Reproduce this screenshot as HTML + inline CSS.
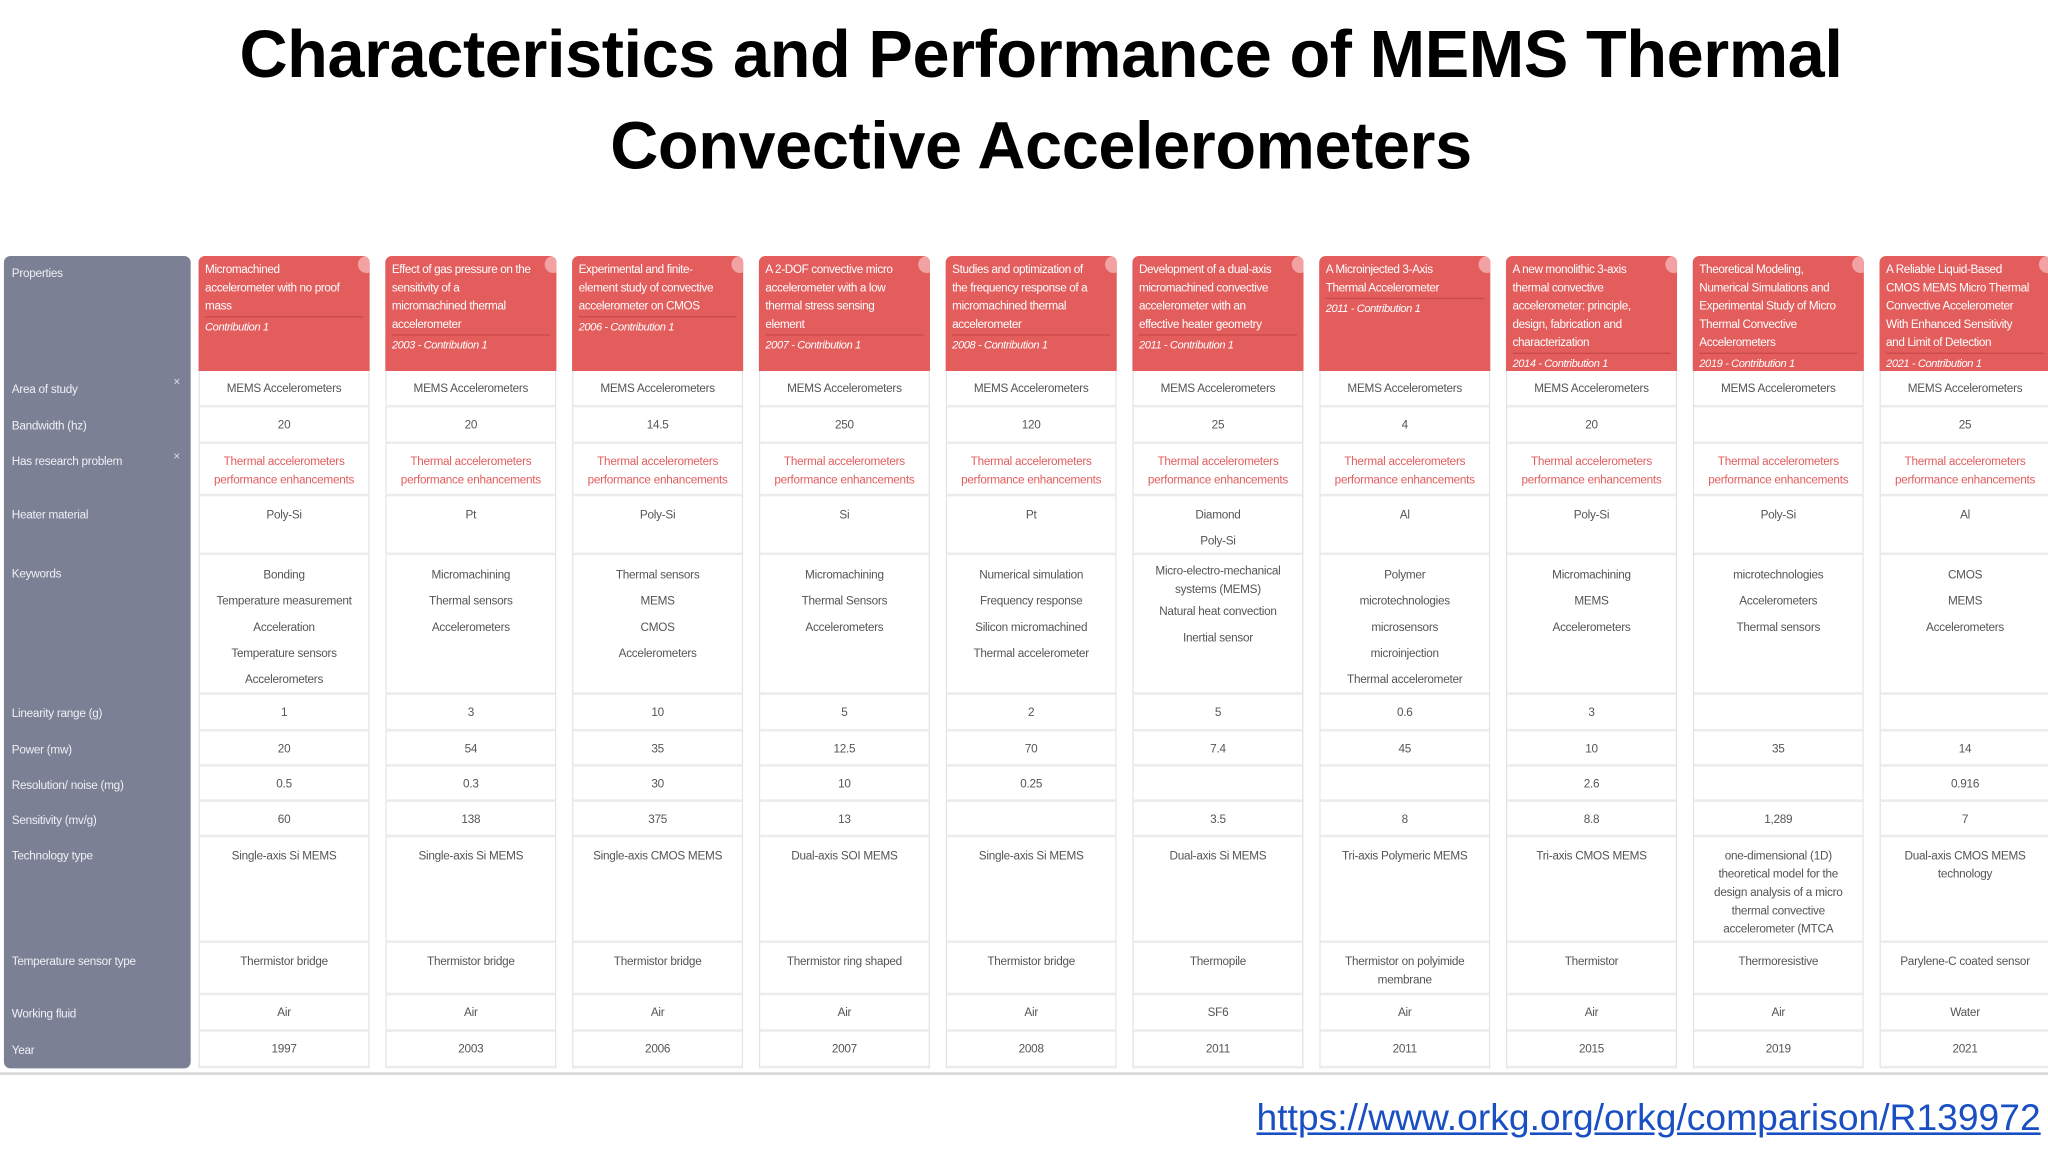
<!DOCTYPE html>
<html><head><meta charset="utf-8">
<style>
html,body{margin:0;padding:0;background:#fff;}
body{width:2048px;height:1152px;overflow:hidden;position:relative;font-family:"Liberation Sans",sans-serif;}
#wrap{position:absolute;left:0;top:0;width:1568px;height:882px;transform:scale(1.306122);transform-origin:0 0;}
.title{position:absolute;left:0;width:1594px;text-align:center;font-weight:bold;font-size:51px;color:#000;letter-spacing:-0.3px;}
.prop{position:absolute;left:3px;top:196px;width:143px;height:622px;background:#7b8095;border-radius:5px;}
.plabel{position:absolute;left:6px;color:#eef0f5;font-size:9px;letter-spacing:-0.2px;}
.px{position:absolute;right:8px;color:#dde;font-size:9px;}
.col{position:absolute;top:196px;width:131px;height:622px;background:#fff;border:1px solid #e3e3e3;border-top:none;box-sizing:border-box;border-radius:5px 5px 0 0;}
.hdr{position:absolute;left:-1px;top:0;width:131px;height:88px;background:#e35d5d;border-radius:5px 5px 0 0;color:#fff;font-size:9px;line-height:14px;padding:3px 5px;box-sizing:border-box;letter-spacing:-0.3px;white-space:nowrap;overflow:hidden;}
.hdr .sub{font-style:italic;font-size:8.5px;border-top:1px solid #c94a4a;margin-top:1px;}
.dot{position:absolute;right:-4px;top:0px;width:13px;height:13px;border-radius:50%;background:#f2a2a2;}
.cell{position:absolute;left:0;width:129px;text-align:center;font-size:9px;color:#555;letter-spacing:-0.2px;border-bottom:2px solid #ececec;box-sizing:border-box;}
.red{color:#e35d5d;}
.hr{position:absolute;left:0;top:821px;width:1568px;height:2px;background:#d8d8d8;}
.url{position:absolute;left:962px;top:840px;font-size:28.5px;color:#1a4fc4;text-decoration:underline;}
</style></head><body>
<div id="wrap">
<div class="title" style="top:12px">Characteristics and Performance of MEMS Thermal</div>
<div class="title" style="top:82px">Convective Accelerometers</div>
<div class="prop" id="prop"></div>
<div id="cols"></div>
<div class="hr"></div>
<div class="url">https://www.orkg.org/orkg/comparison/R139972</div>
</div>
<script>
const rowLabels=["Area of study","Bandwidth (hz)","Has research problem","Heater material","Keywords","Linearity range (g)","Power (mw)","Resolution/ noise (mg)","Sensitivity (mv/g)","Technology type","Temperature sensor type","Working fluid","Year"];
const rowTops=[284,312,340,380,425,532,560,587,614,641,722,762,790,818];
const rowPad=[0,0,6,4,5,0,0,0,0,7,7,0,0];
const rowLH=[14,14,14,20,20,14,14,14,14,14,14,14,14];
const titles=["Micromachined|accelerometer with no proof|mass","Effect of gas pressure on the|sensitivity of a|micromachined thermal|accelerometer","Experimental and finite-|element study of convective|accelerometer on CMOS","A 2-DOF convective micro|accelerometer with a low|thermal stress sensing|element","Studies and optimization of|the frequency response of a|micromachined thermal|accelerometer","Development of a dual-axis|micromachined convective|accelerometer with an|effective heater geometry","A Microinjected 3-Axis|Thermal Accelerometer","A new monolithic 3-axis|thermal convective|accelerometer: principle,|design, fabrication and|characterization","Theoretical Modeling,|Numerical Simulations and|Experimental Study of Micro|Thermal Convective|Accelerometers","A Reliable Liquid-Based|CMOS MEMS Micro Thermal|Convective Accelerometer|With Enhanced Sensitivity|and Limit of Detection"];
const subs=["Contribution 1","2003 - Contribution 1","2006 - Contribution 1","2007 - Contribution 1","2008 - Contribution 1","2011 - Contribution 1","2011 - Contribution 1","2014 - Contribution 1","2019 - Contribution 1","2021 - Contribution 1"];
const bandwidth=["20","20","14.5","250","120","25","4","20","","25"];
const heater=[["Poly-Si"],["Pt"],["Poly-Si"],["Si"],["Pt"],["Diamond","Poly-Si"],["Al"],["Poly-Si"],["Poly-Si"],["Al"]];
const keywords=[["Bonding","Temperature measurement","Acceleration","Temperature sensors","Accelerometers"],["Micromachining","Thermal sensors","Accelerometers"],["Thermal sensors","MEMS","CMOS","Accelerometers"],["Micromachining","Thermal Sensors","Accelerometers"],["Numerical simulation","Frequency response","Silicon micromachined","Thermal accelerometer"],["<div style='line-height:14px'>Micro-electro-mechanical<br>systems (MEMS)</div>","Natural heat convection","Inertial sensor"],["Polymer","microtechnologies","microsensors","microinjection","Thermal accelerometer"],["Micromachining","MEMS","Accelerometers"],["microtechnologies","Accelerometers","Thermal sensors"],["CMOS","MEMS","Accelerometers"]];
const linearity=["1","3","10","5","2","5","0.6","3","",""];
const power=["20","54","35","12.5","70","7.4","45","10","35","14"];
const resolution=["0.5","0.3","30","10","0.25","","","2.6","","0.916"];
const sensitivity=["60","138","375","13","","3.5","8","8.8","1,289","7"];
const tech=["Single-axis Si MEMS","Single-axis Si MEMS","Single-axis CMOS MEMS","Dual-axis SOI MEMS","Single-axis Si MEMS","Dual-axis Si MEMS","Tri-axis Polymeric MEMS","Tri-axis CMOS MEMS","one-dimensional (1D) theoretical model for the design analysis of a micro thermal convective accelerometer (MTCA","Dual-axis CMOS MEMS technology"];
const tempSensor=["Thermistor bridge","Thermistor bridge","Thermistor bridge","Thermistor ring shaped","Thermistor bridge","Thermopile","Thermistor on polyimide membrane","Thermistor","Thermoresistive","Parylene-C coated sensor"];
const fluid=["Air","Air","Air","Air","Air","SF6","Air","Air","Air","Water"];
const years=["1997","2003","2006","2007","2008","2011","2011","2015","2019","2021"];

const prop=document.getElementById('prop');
let pl=document.createElement('div');pl.className='plabel';pl.style.top='8px';pl.textContent='Properties';


prop.appendChild(pl);
rowLabels.forEach((t,i)=>{
  const d=document.createElement('div');d.className='plabel';
  const h=rowTops[i+1]-rowTops[i];
  d.style.top=(rowTops[i]-196+(i===2||i>=9&&i<=10?rowPad[i]:(i===3?7:(i===4?7:(h-14)/2))))+'px';d.style.lineHeight='14px';
  d.textContent=t;
  
  
  prop.appendChild(d);
  if(i===0||i===2){const x=document.createElement('div');x.className='px';x.style.top=(rowTops[i]-196+(i===0?3:4))+'px';x.textContent='×';
    
    
    prop.appendChild(x);}
});
const cols=document.getElementById('cols');
for(let c=0;c<10;c++){
  const col=document.createElement('div');col.className='col';col.style.left=(152+143*c)+'px';
  
  
  const h=document.createElement('div');h.className='hdr';
  h.innerHTML='<div>'+titles[c].split('|').join('<br>')+'</div><div class="sub">'+subs[c]+'</div>';
  
  
  const dot=document.createElement('div');dot.className='dot';
  
  
  h.appendChild(dot);
  col.appendChild(h);
  const vals=[["MEMS Accelerometers"],[bandwidth[c]],["Thermal accelerometers","performance enhancements"],heater[c],keywords[c],[linearity[c]],[power[c]],[resolution[c]],[sensitivity[c]],[tech[c]],[tempSensor[c]],[fluid[c]],[years[c]]];
  vals.forEach((v,i)=>{
    const cell=document.createElement('div');cell.className='cell'+(i===2?' red':'');
    const hh=rowTops[i+1]-rowTops[i];
    cell.style.top=(rowTops[i]-196)+'px';cell.style.height=hh+'px';
    cell.style.lineHeight=rowLH[i]+'px';
    cell.style.padding=(rowPad[i]?rowPad[i]:(hh-2-14)/2)+'px 6px 0';
    if(i===9||i===10){cell.style.padding=rowPad[i]+'px 10px 0';}
    cell.innerHTML=v.map(s=>'<div>'+s+'</div>').join('');
    
    
    col.appendChild(cell);
  });
  cols.appendChild(col);
}
</script>
</body></html>
